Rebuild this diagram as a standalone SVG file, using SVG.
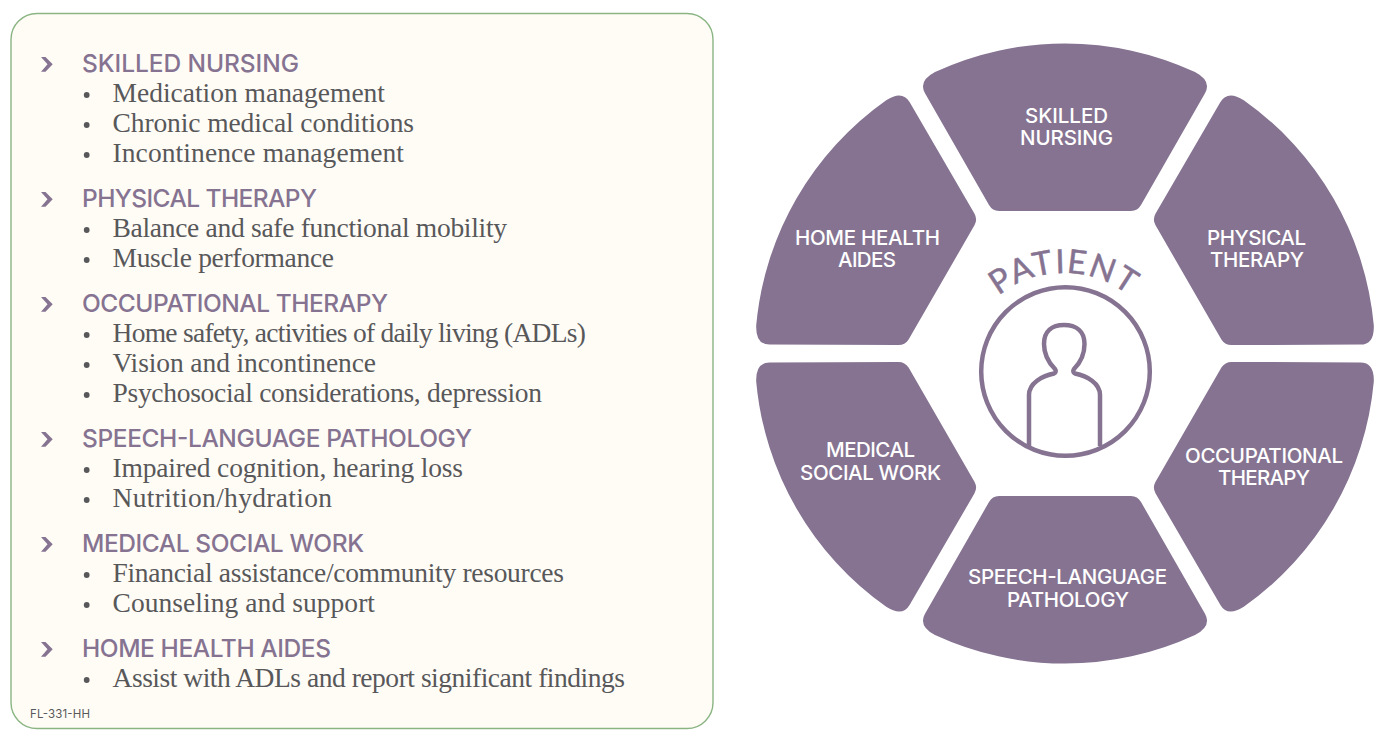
<svg xmlns="http://www.w3.org/2000/svg" width="1386" height="743" viewBox="0 0 1386 743">
<style>
.h{font:500 24.5px Inter,"Liberation Sans",sans-serif;fill:#857391}
.b{font:27.5px "Liberation Serif",serif;fill:#58585a}
.w{font:500 20.5px Inter,"Liberation Sans",sans-serif;fill:#fff;text-anchor:middle}
.seg{fill:#857391}
.ch{fill:#857391}
.ln{fill:none;stroke:#857391;stroke-width:4.5}
</style>
<defs>
<path id="seg" d="M999 211H1131A12 12 0 0 0 1141 205L1205 93.200Q1212 81 1195 72A310 310 0 0 0 935 72Q918 81 925 93.200L989 205A12 12 0 0 0 999 211Z"/>
<path id="chev" d="M41 57H45.500L52.700 64.300L45.500 71.700H41L47.500 64.300Z"/>
<circle id="dot" cx="86.700" cy="0" r="2.900" fill="#58585a"/>
<path id="arc" d="M959 378A105 105 0 0 1 1169 378"/>
</defs>
<g id="panel">
<rect x="11" y="13.500" width="702" height="715" rx="26" fill="#fffcf6" stroke="#8ab583" stroke-width="1.400"/>
<text x="30" y="717.700" font-family="Inter,'Liberation Sans',sans-serif" font-size="11.500" fill="#58585a" textLength="60">FL-331-HH</text>
</g>
<g id="list-skilled-nursing">
<use href="#chev" class="ch"/>
<text class="h" x="82" y="71.700" textLength="217">SKILLED NURSING</text>
<use href="#dot" y="95"/><text class="b" x="112.500" y="101.700" textLength="272.500">Medication management</text>
<use href="#dot" y="125"/><text class="b" x="112.500" y="131.700" textLength="301.500">Chronic medical conditions</text>
<use href="#dot" y="155"/><text class="b" x="112.500" y="161.700" textLength="291.500">Incontinence management</text>
</g>
<g id="list-physical-therapy">
<use href="#chev" class="ch" y="135"/>
<text class="h" x="82" y="206.700" textLength="235">PHYSICAL THERAPY</text>
<use href="#dot" y="230"/><text class="b" x="112.500" y="236.700" textLength="394.500">Balance and safe functional mobility</text>
<use href="#dot" y="260"/><text class="b" x="112.500" y="266.700" textLength="221.500">Muscle performance</text>
</g>
<g id="list-occupational-therapy">
<use href="#chev" class="ch" y="240"/>
<text class="h" x="82" y="311.700" textLength="306">OCCUPATIONAL THERAPY</text>
<use href="#dot" y="335"/><text class="b" x="112.500" y="341.700" textLength="473.500">Home safety, activities of daily living (ADLs)</text>
<use href="#dot" y="365"/><text class="b" x="112.500" y="371.700" textLength="263.500">Vision and incontinence</text>
<use href="#dot" y="395"/><text class="b" x="112.500" y="401.700" textLength="429.500">Psychosocial considerations, depression</text>
</g>
<g id="list-speech-language-pathology">
<use href="#chev" class="ch" y="375"/>
<text class="h" x="82" y="446.700" textLength="390">SPEECH-LANGUAGE PATHOLOGY</text>
<use href="#dot" y="470"/><text class="b" x="112.500" y="476.700" textLength="350.500">Impaired cognition, hearing loss</text>
<use href="#dot" y="500"/><text class="b" x="112.500" y="506.700" textLength="219.500">Nutrition/hydration</text>
</g>
<g id="list-medical-social-work">
<use href="#chev" class="ch" y="480"/>
<text class="h" x="82" y="551.700" textLength="282">MEDICAL SOCIAL WORK</text>
<use href="#dot" y="575"/><text class="b" x="112.500" y="581.700" textLength="451.500">Financial assistance/community resources</text>
<use href="#dot" y="605"/><text class="b" x="112.500" y="611.700" textLength="262.500">Counseling and support</text>
</g>
<g id="list-home-health-aides">
<use href="#chev" class="ch" y="585"/>
<text class="h" x="82" y="656.700" textLength="249">HOME HEALTH AIDES</text>
<use href="#dot" y="680"/><text class="b" x="112.500" y="686.700" textLength="512.500">Assist with ADLs and report significant findings</text>
</g>
<g id="node-skilled-nursing">
<use href="#seg" class="seg"/>
<text class="w" x="1066.500" y="122.700" textLength="83">SKILLED</text>
<text class="w" x="1066.500" y="145" textLength="93">NURSING</text>
</g>
<g id="node-physical-therapy">
<use href="#seg" class="seg" transform="rotate(60 1065 353.500)"/>
<text class="w" x="1256.500" y="245" textLength="99">PHYSICAL</text>
<text class="w" x="1257" y="267" textLength="94">THERAPY</text>
</g>
<g id="node-occupational-therapy">
<use href="#seg" class="seg" transform="rotate(120 1065 353.500)"/>
<text class="w" x="1264" y="463" textLength="158">OCCUPATIONAL</text>
<text class="w" x="1264" y="485" textLength="92">THERAPY</text>
</g>
<g id="node-speech-language-pathology">
<use href="#seg" class="seg" transform="rotate(180 1065 353.500)"/>
<text class="w" x="1067.500" y="584" textLength="199">SPEECH-LANGUAGE</text>
<text class="w" x="1068" y="606.500" textLength="122">PATHOLOGY</text>
</g>
<g id="node-medical-social-work">
<use href="#seg" class="seg" transform="rotate(240 1065 353.500)"/>
<text class="w" x="870.500" y="457" textLength="89">MEDICAL</text>
<text class="w" x="870.500" y="479.500" textLength="141">SOCIAL WORK</text>
</g>
<g id="node-home-health-aides">
<use href="#seg" class="seg" transform="rotate(300 1065 353.500)"/>
<text class="w" x="867.500" y="245" textLength="145">HOME HEALTH</text>
<text class="w" x="867" y="267" textLength="58">AIDES</text>
</g>
<g id="node-patient">
<text font-family="Lato,'Open Sans',sans-serif" font-size="33" fill="#857391" stroke="#857391" stroke-width="0.500" text-anchor="middle" letter-spacing="1.500"><textPath href="#arc" startOffset="50%">PATIENT</textPath></text>
<circle class="ln" cx="1065.500" cy="371.500" r="84.300"/>
<path class="ln" d="M1029 446V395C1029 383 1042 376 1054 373.500C1056 373 1056 370.500 1055 369C1048 362 1044 353 1044 344C1044 331 1052 325 1064 325C1076 325 1084.500 331 1084.500 344C1084.500 353 1081 362 1074 369C1073 370.500 1073 373 1075 373.500C1087 376 1100 383 1100 395V446"/>
</g>
</svg>
